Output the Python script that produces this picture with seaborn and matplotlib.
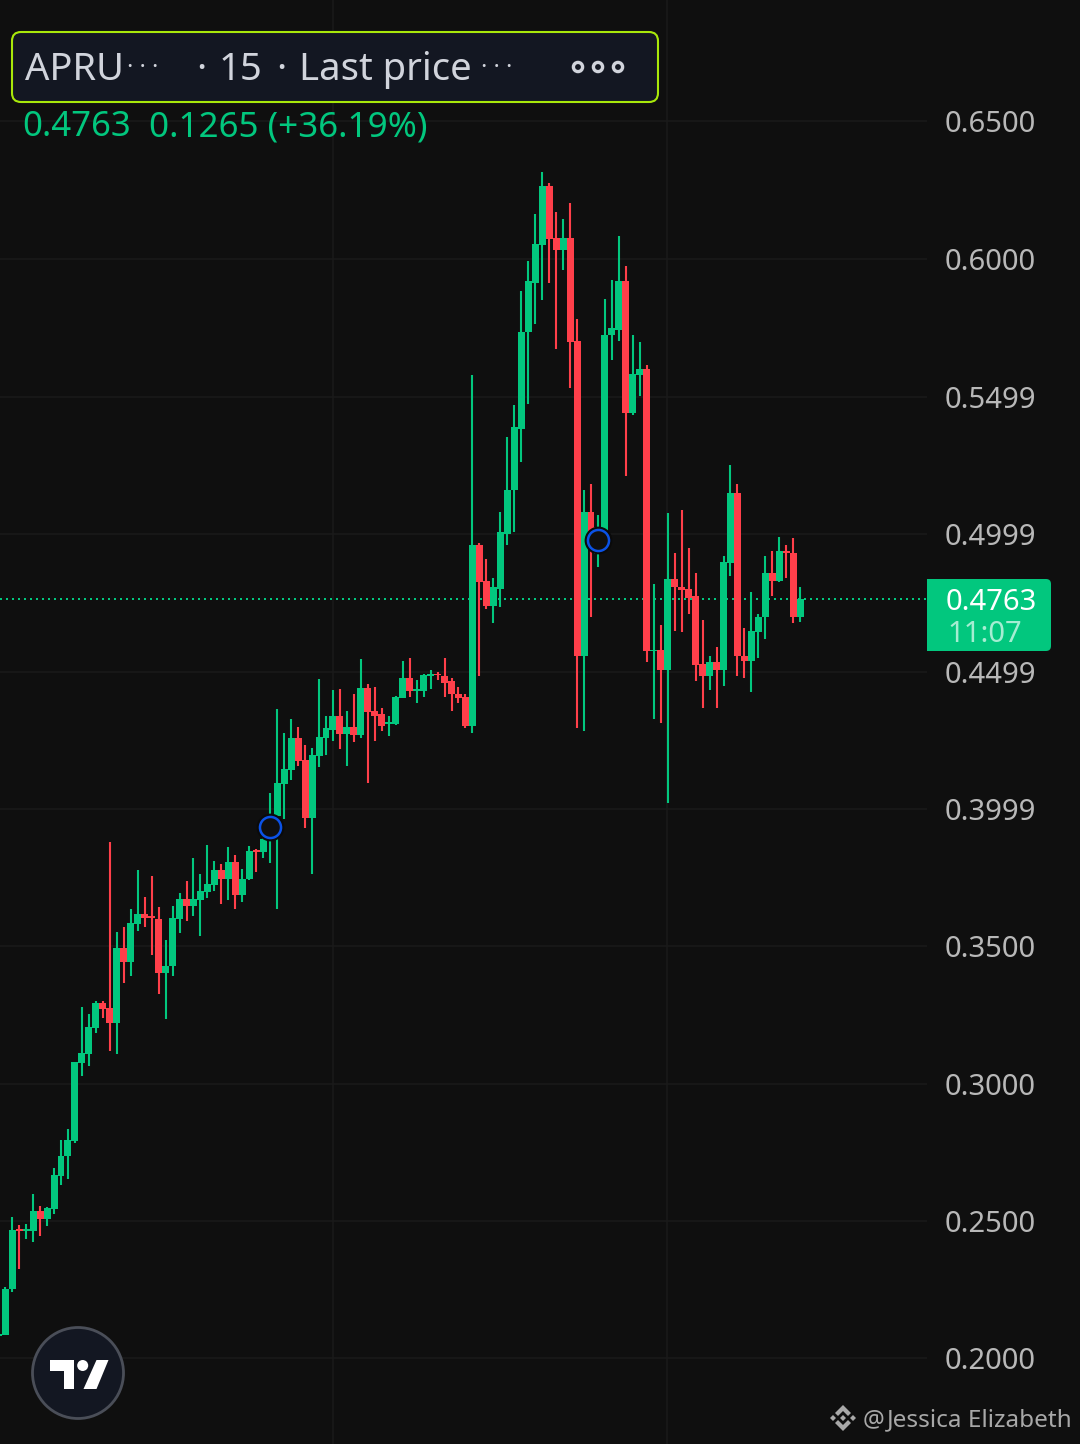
import numpy as np
import matplotlib
matplotlib.use("Agg")
import matplotlib.pyplot as plt
from matplotlib.patches import Circle, FancyBboxPatch, Polygon, Rectangle
import seaborn as sns

# candles, oldest first
open_ = [.2080, .2085, .2252, .2470, .2464, .2464, .2537, .2507, .2544, .2664, .2737,
         .2791, .3074, .3108, .3202, .3293, .3274, .3222, .3492, .3443, .3579,
         .3616, .3609, .3598, .3401, .3427, .3598, .3670, .3646, .3666, .3696,
         .3722, .3776, .3743, .3805, .3685, .3743, .3849, .3841, .3893, .3972,
         .4088, .4139, .4256, .4176, .3965, .4190, .4256, .4288, .4339, .4270,
         .4296, .4267, .4438, .4354, .4343, .4307, .4307, .4401, .4474, .4427,
         .4427, .4484, .4489, .4481, .4463, .4419, .4405, .4299, .4961, .4827,
         .4739, .4801, .5001, .5158, .5383, .5733, .5914, .6049, .6264, .6075,
         .6031, .6075, .5700, .4557, .5078, .4925, .5005, .5722, .5743, .5918,
         .5438, .5576, .5598, .4572, .4576, .4503, .4834, .4808, .4798, .4772,
         .4525, .4481, .4532, .4503, .4892, .5147, .4557, .4539, .4641, .4696,
         .4856, .4827, .4939, .4932, .4696]
high = [.2088, .2261, .2513, .2485, .2488, .2598, .2553, .2550, .2691, .2793, .2834,
        .3077, .3278, .3252, .3300, .3300, .3878, .3551, .3568, .3635, .3776,
        .3678, .3754, .3642, .3521, .3646, .3692, .3737, .3820, .3761, .3867,
        .3809, .3798, .3860, .3830, .3780, .3863, .3852, .3893, .4058, .4361,
        .4274, .4325, .4298, .4230, .4219, .4470, .4339, .4430, .4434, .4354,
        .4419, .4543, .4452, .4441, .4365, .4339, .4409, .4536, .4550, .4467,
        .4489, .4503, .4499, .4550, .4474, .4441, .4419, .5576, .4965, .4910,
        .4841, .5081, .5351, .5467, .5882, .5994, .6165, .6315, .6275, .6169,
        .6147, .6202, .5780, .5158, .5183, .5067, .5853, .5925, .6085, .5973,
        .5725, .5696, .5613, .4816, .4670, .5074, .4932, .5085, .4950, .4859,
        .4688, .4554, .4587, .4918, .5252, .5183, .4659, .4790, .4707, .4921,
        .4939, .4987, .4961, .4983, .4805]
low = [.2080, .2085, .2241, .2325, .2436, .2423, .2444, .2481, .2524, .2630, .2652,
       .2782, .3027, .3063, .3183, .3237, .3118, .3107, .3365, .3393, .3555,
       .3568, .3467, .3325, .3234, .3393, .3547, .3590, .3609, .3536, .3674,
       .3700, .3652, .3666, .3634, .3659, .3739, .3769, .3819, .3801, .3634,
       .3961, .4103, .4157, .3928, .3761, .4150, .4194, .4245, .4216, .4154,
       .4241, .4256, .4092, .4248, .4281, .4263, .4303, .4401, .4408, .4383,
       .4408, .4434, .4467, .4405, .4354, .4383, .4292, .4274, .4481, .4725,
       .4674, .4732, .4958, .5005, .5260, .5474, .5765, .5849, .5911, .5674,
       .5958, .5532, .4292, .4281, .4696, .4881, .4980, .5631, .5703, .5212,
       .5431, .5503, .4532, .4328, .4310, .4019, .4645, .4641, .4707, .4463,
       .4365, .4430, .4365, .4448, .4845, .4481, .4474, .4426, .4550, .4616,
       .4772, .4823, .4838, .4674, .4678]
close = [.2088, .2254, .2466, .2464, .2470, .2537, .2507, .2546, .2666, .2738, .2793,
         .3077, .3111, .3205, .3293, .3272, .3222, .3492, .3443, .3583, .3616,
         .3601, .3603, .3401, .3429, .3601, .3670, .3646, .3670, .3700, .3726,
         .3776, .3743, .3805, .3685, .3746, .3845, .3842, .3888, .3975, .4092,
         .4143, .4256, .4173, .3965, .4194, .4259, .4292, .4339, .4270, .4296,
         .4267, .4438, .4350, .4339, .4299, .4314, .4405, .4474, .4427, .4434,
         .4485, .4489, .4485, .4459, .4416, .4401, .4299, .4961, .4823, .4739,
         .4805, .5005, .5161, .5387, .5736, .5918, .6053, .6264, .6071, .6031,
         .6075, .5696, .4557, .5078, .4998, .5023, .5725, .5747, .5918, .5438,
         .5580, .5598, .4572, .4579, .4503, .4834, .4805, .4794, .4768, .4521,
         .4481, .4532, .4503, .4896, .5147, .4554, .4539, .4645, .4699, .4856,
         .4827, .4939, .4929, .4696, .4763]

price_ticks = [.65, .60, .5499, .4999, .4499, .3999, .35, .30, .25, .20]
price_labels = ["0.6500", "0.6000", "0.5499", "0.4999", "0.4499",
                "0.3999", "0.3500", "0.3000", "0.2500", "0.2000"]
time_grid = [47.0, 94.9]
last_price = 0.4763
marker_bar = [38, 85]
marker_price = [.3932, .4976]

GREEN = "#02C77E"
RED = "#FF3F4A"
BG = "#0F0F0F"
GRID = "#1A1A1A"
TEXT = "#B8B8B8"

sns.set_theme(style="dark", rc={"figure.facecolor": BG, "axes.facecolor": BG})
plt.rcParams["font.family"] = ["Noto Sans", "DejaVu Sans"]

fig = plt.figure(figsize=(10.8, 14.44), dpi=100)
ax = fig.add_axes([0, 0, 927 / 1080, 1])

bars = np.arange(len(close)) - 1
o = np.array(open_)
c = np.array(close)
up = c >= o
colors = np.where(up, GREEN, RED)

ax.vlines(bars, low, high, colors=colors, linewidth=1.5, zorder=2.5)
for mask, col in ((up, GREEN), (~up, RED)):
    sns.barplot(x=bars[mask], y=np.abs(c - o)[mask], bottom=np.minimum(o, c)[mask],
                native_scale=True, errorbar=None, width=1.0, color=col, saturation=1,
                linewidth=0, zorder=3, ax=ax)

# last price line and the two event markers
ax.axhline(last_price, color=GREEN, linewidth=1.44, linestyle=(0, (1, 2)), zorder=2.8)
sns.scatterplot(x=marker_bar, y=marker_price, s=400, color="#0A0A0A", linewidth=0, zorder=4, ax=ax)
sns.scatterplot(x=marker_bar, y=marker_price, s=230, color=BG, edgecolor="#0B52E6",
                linewidth=1.8, zorder=5, ax=ax)

ax.set_xlim(-0.746, 132.18)
ax.set_ylim(0.6942 - 0.0003638 * 1444, 0.6942)
ax.set_xlabel("")
ax.set_ylabel("")
ax.set_xticks(time_grid)
ax.set_xticklabels([])
ax.yaxis.tick_right()
ax.set_yticks(price_ticks)
ax.set_yticklabels(price_labels, fontsize=21, color=TEXT)
ax.tick_params(axis="both", length=0)
ax.tick_params(axis="y", pad=13)
ax.grid(True, color=GRID, linewidth=1.1)
ax.set_axisbelow(True)
sns.despine(ax=ax, left=True, right=True, top=True, bottom=True)

# everything on top of the chart is placed in screen pixels
ui = fig.add_axes([0, 0, 1, 1])
ui.set_xlim(0, 1080)
ui.set_ylim(1444, 0)
ui.axis("off")
ui.patch.set_alpha(0)

ui.add_patch(FancyBboxPatch((12, 32), 646, 70, boxstyle="round,pad=0,rounding_size=9",
                            fc="#131722", ec="#A8E80A", lw=1.5))
HEAD = "#D1D4DC"
ui.text(25, 80, "APRU", fontsize=27.5, color=HEAD)
ui.text(127, 74, "· · ·", fontsize=17, color=HEAD)
ui.text(196, 80, "·", fontsize=27.5, color=HEAD)
ui.text(219, 80, "15", fontsize=27.5, color=HEAD)
ui.text(276, 80, "·", fontsize=27.5, color=HEAD)
ui.text(299, 80, "Last price", fontsize=27.5, color=HEAD)
ui.text(481, 74, "· · ·", fontsize=17, color=HEAD)
for x in (578, 598, 618):
    ui.add_patch(Circle((x, 67), 4.6, fc="none", ec=HEAD, lw=2.4))

ui.text(22.5, 136, "0.4763", fontsize=25, color=GREEN)
ui.text(149, 136, "0.1265 (+36.19%)", fontsize=25.2, color=GREEN)

# price tag on the axis
ui.add_patch(FancyBboxPatch((927, 579), 124, 72, boxstyle="round,pad=0,rounding_size=5",
                            fc=GREEN, ec="none"))
ui.add_patch(Rectangle((927, 579), 20, 72, fc=GREEN, ec="none"))
ui.text(946, 603, "0.4763", fontsize=21, color="white", va="center")
ui.text(947, 635, "11:07", fontsize=21, color="#A5EDD2", va="center")

# TradingView badge
ui.add_patch(Circle((78, 1373), 45.5, fc="#131722", ec="#4A4E58", lw=2))
ui.add_patch(Polygon([(50, 1360), (74, 1360), (74, 1389), (63.5, 1389), (63.5, 1371), (50, 1371)],
                     fc="white", ec="none"))
ui.add_patch(Circle((82.7, 1365.5), 5.5, fc="white", ec="none"))
ui.add_patch(Polygon([(96.5, 1360), (108.5, 1360), (96.5, 1389), (83.5, 1389)], fc="white", ec="none"))

# watermark
MARK = "#A8A8A8"
for dx, dy in ((-10, 0), (10, 0), (0, 0)):
    ui.add_patch(Polygon([(843 + dx, 1415 + dy), (846 + dx, 1418 + dy), (843 + dx, 1421 + dy),
                          (840 + dx, 1418 + dy)], fc=MARK, ec="none"))
ui.add_patch(Polygon([(843, 1405), (851, 1413), (848, 1416), (843, 1411), (838, 1416), (835, 1413)],
                     fc=MARK, ec="none"))
ui.add_patch(Polygon([(843, 1431), (851, 1423), (848, 1420), (843, 1425), (838, 1420), (835, 1423)],
                     fc=MARK, ec="none"))
ui.text(863, 1426, "@", fontsize=17.5, color=MARK)
ui.text(887, 1426, "Jessica Elizabeth", fontsize=17.5, color=MARK)

fig.savefig("out.png", dpi=100, facecolor=BG)
